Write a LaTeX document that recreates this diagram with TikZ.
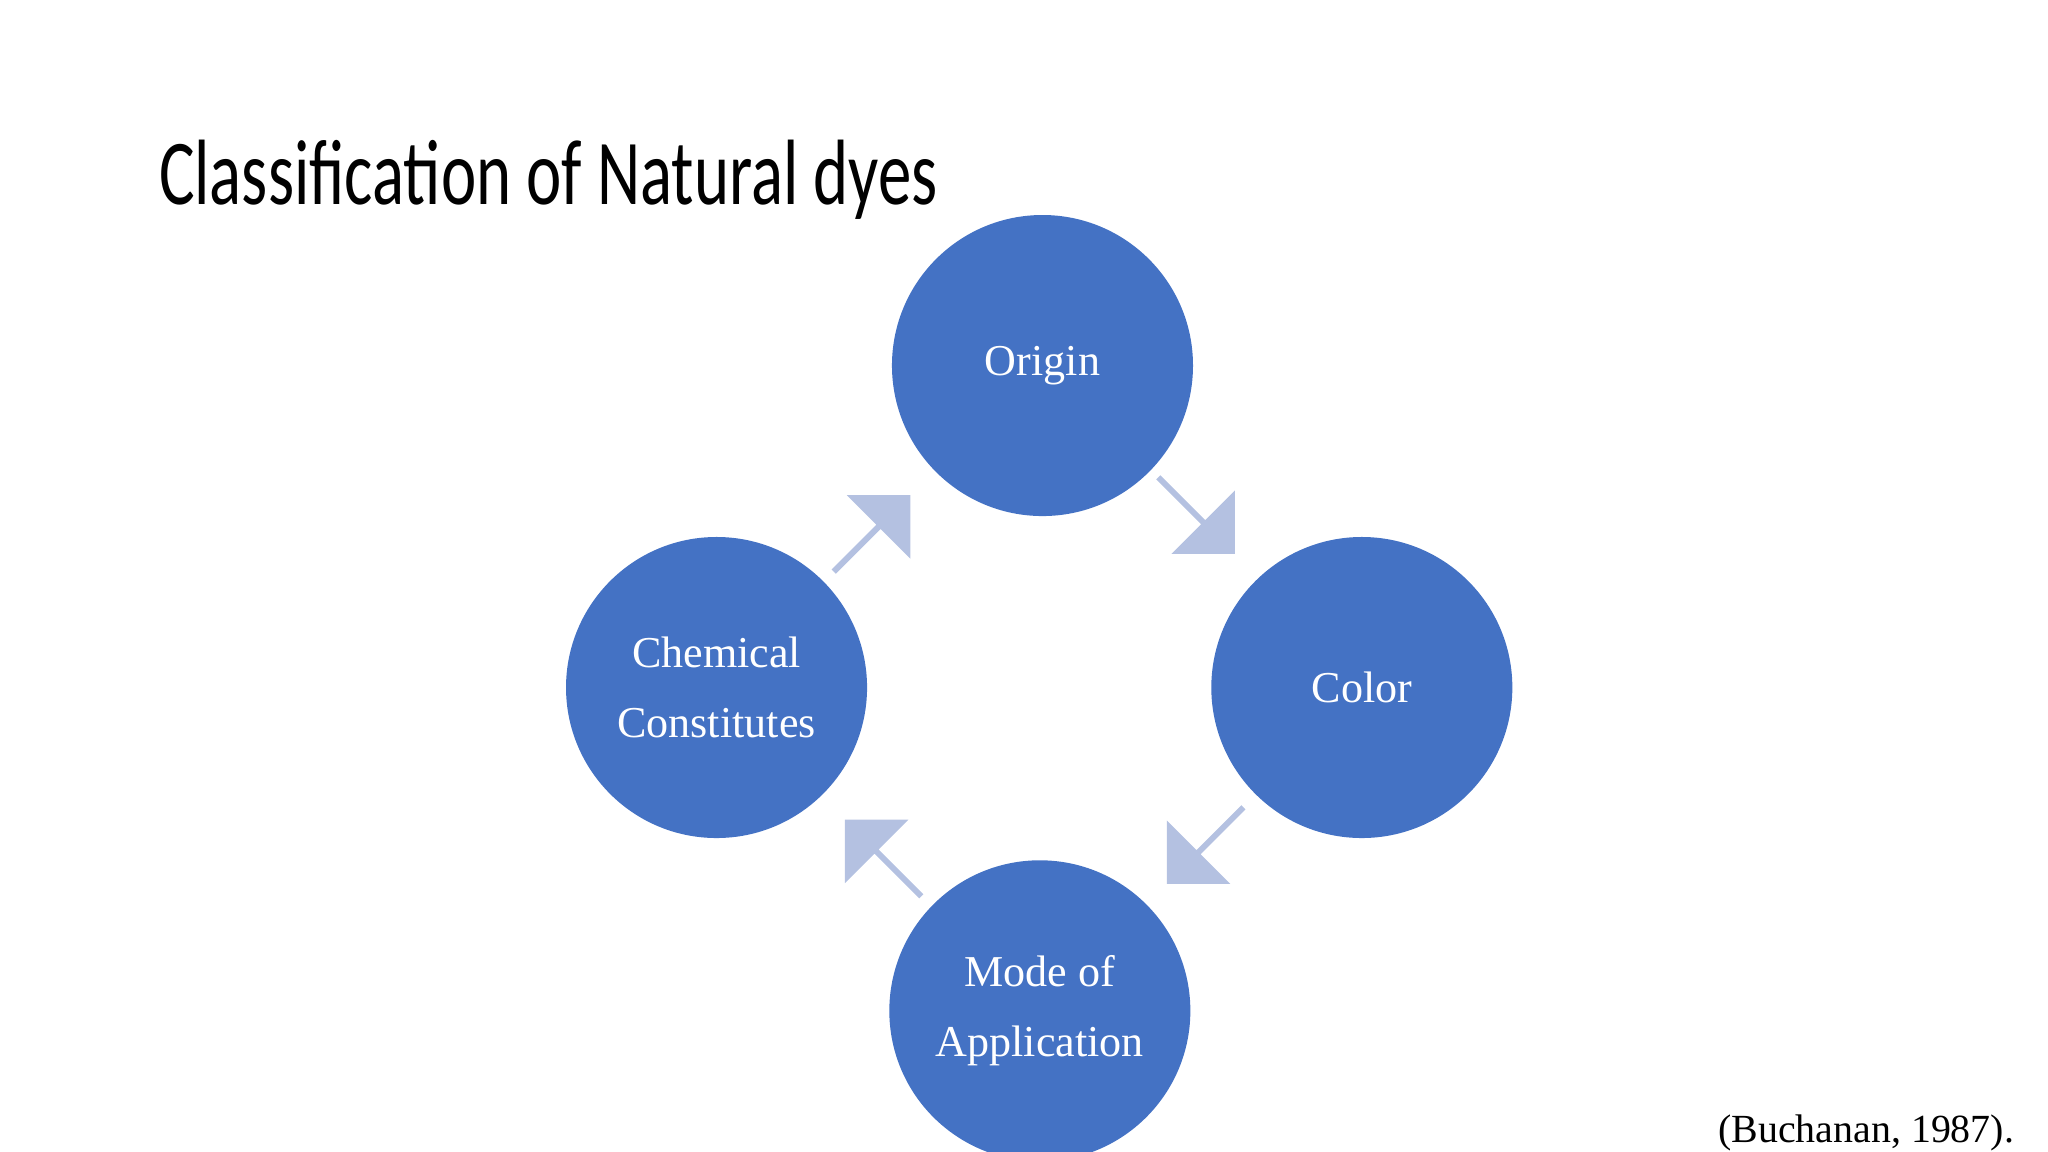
\documentclass[tikz,border=0pt]{standalone}
\usepackage{fontspec}
\setmainfont{Liberation Serif}
\newfontfamily\titlefont{Carlito}
\usetikzlibrary{shapes.arrows}
\definecolor{cblue}{HTML}{4472C4}
\definecolor{lblue}{HTML}{B4C1E1}
\tikzset{
 circ/.style={circle,fill=cblue,minimum size=2.28cm,inner sep=0pt,text=white,font=\fontsize{9.5}{13}\selectfont,align=center},
 arr/.style={single arrow,fill=lblue,minimum height=0.82cm,minimum width=0.68cm,single arrow head extend=0.1cm,inner sep=0pt}
}
\begin{document}
\begin{tikzpicture}[x=0.01cm,y=-0.01cm]
\useasboundingbox (0,0) rectangle (1552,873);
\node[anchor=base west,inner sep=0pt,xscale=0.72,font=\titlefont\fontsize{20}{24}\selectfont] (title) at (120,155) {Classification of Natural dyes};
\node[circ] (o) at (790,277) {Origin};
\node[circ] (c) at (1032,521) {Color};
\node[circ] (m) at (788,766) {Mode of\\[2pt]Application};
\node[circ] (h) at (543,521) {Chemical\\[2pt]Constitutes};
\node[arr,rotate=-45] (a1) at (906,390) {};
\node[arr,rotate=-135] (a2) at (914,640) {};
\node[arr,rotate=135] (a3) at (670,651) {};
\node[arr,rotate=45] (a4) at (660,405) {};
\node[anchor=base east,inner sep=0pt,font=\fontsize{8.6}{10}\selectfont] (cite) at (1527,866) {(Buchanan, 1987).};
\end{tikzpicture}
\end{document}
